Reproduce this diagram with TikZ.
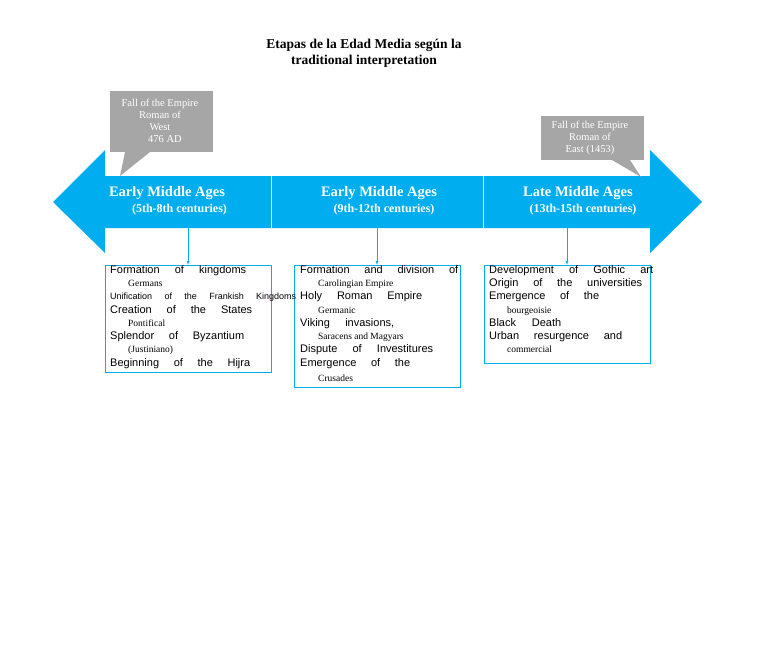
\documentclass[tikz,border=0pt]{standalone}
\usepackage{fontspec}
\setmainfont{Liberation Serif}
\setsansfont{Liberation Sans}
\definecolor{arrowblue}{RGB}{0,174,239}
\definecolor{calloutgray}{RGB}{166,166,166}
\newcommand{\jl}[2]{\makebox[#1pt][s]{\sffamily #2}}
\newcommand{\il}[1]{\hspace*{18pt}{\rmfamily\fontsize{9.5}{10}\selectfont #1}}
\tikzset{
  head/.style={font=\bfseries\fontsize{14.5}{16}\selectfont, white, align=center},
  events/.style={draw=arrowblue, thick, anchor=north west, inner sep=0pt},
  items/.style={anchor=north west, align=left, inner sep=0pt, font=\fontsize{11}{13.3}\selectfont},
  link/.style={arrowblue, ->, >=latex},
  callout/.style={font=\fontsize{10.5}{12}\selectfont, white, align=center}
}
\begin{document}
\begin{tikzpicture}[x=1pt,y=-1pt]
\useasboundingbox (0,0) rectangle (768,669);
% title
\node[font=\bfseries\fontsize{13.5}{16.5}\selectfont, align=center] (title) at (364,53) {Etapas de la Edad Media según la\\traditional interpretation};
% double arrow
\fill[arrowblue] (53,202) -- (105,150) -- (105,176) -- (650,176) -- (650,150) -- (702,202)
  -- (650,253) -- (650,228) -- (105,228) -- (105,253) -- cycle;
\draw[white, thick] (271,176) -- (271,228);
\draw[white, thick] (483,176) -- (483,228);
% callouts
\fill[calloutgray] (110,91) rectangle (213,152);
\fill[calloutgray] (125,152) -- (120,176) -- (150,152) -- cycle;
\node[callout] (west) at (160,121) {Fall of the Empire\\Roman of\\West\\\hspace*{10pt}476 AD};
\fill[calloutgray] (541,116) rectangle (644,160);
\fill[calloutgray] (612,160) -- (641,177) -- (630,160) -- cycle;
\node[callout] (east) at (590,138) {Fall of the Empire\\Roman of\\East (1453)};
% period labels
\node[head] (early) at (167,201) {Early Middle Ages\\\hspace*{25pt}\fontsize{12}{14}\selectfont(5th-8th centuries)};
\node[head] (high) at (379,201) {Early Middle Ages\\\hspace*{10pt}\fontsize{12}{14}\selectfont(9th-12th centuries)};
\node[head] (late) at (578,201) {Late Middle Ages\\\hspace*{10pt}\fontsize{12}{14}\selectfont(13th-15th centuries)};
% event boxes
\node[events, minimum width=166pt, minimum height=107pt] (boxa) at (105,265) {};
\node[events, minimum width=166pt, minimum height=122pt] (boxb) at (294,265) {};
\node[events, minimum width=166pt, minimum height=98pt] (boxc) at (484,265) {};
\coordinate (ta) at (188,228);
\coordinate (tb) at (377,228);
\coordinate (tc) at (567,228);
\draw[link] (ta) -- (boxa.north -| ta);
\draw[link] (tb) -- (boxb.north -| tb);
\draw[link] (tc) -- (boxc.north -| tc);
\node[items] (lista) at (110,265) {\jl{136}{Formation of kingdoms}\\
  \il{Germans}\\
  \jl{186}{\fontsize{9}{10}\selectfont Unification of the Frankish Kingdoms}\\
  \jl{142}{Creation of the States}\\
  \il{Pontifical}\\
  \jl{134}{Splendor of Byzantium}\\
  \il{(Justiniano)}\\
  \jl{140}{Beginning of the Hijra}};
\node[items] (listb) at (300,265) {\jl{158}{Formation and division of}\\
  \il{Carolingian Empire}\\
  \jl{122}{Holy Roman Empire}\\
  \il{Germanic}\\
  \jl{94}{Viking invasions,}\\
  \il{Saracens and Magyars}\\
  \jl{133}{Dispute of Investitures}\\
  \jl{110}{Emergence of the}\\[2pt]
  \il{Crusades}};
\node[items] (listc) at (489,265) {\jl{164}{Development of Gothic art}\\
  \jl{153}{Origin of the universities}\\
  \jl{110}{Emergence of the}\\
  \il{bourgeoisie}\\
  \jl{72}{Black Death}\\
  \jl{133}{Urban resurgence and}\\
  \il{commercial}};
\end{tikzpicture}
\end{document}
